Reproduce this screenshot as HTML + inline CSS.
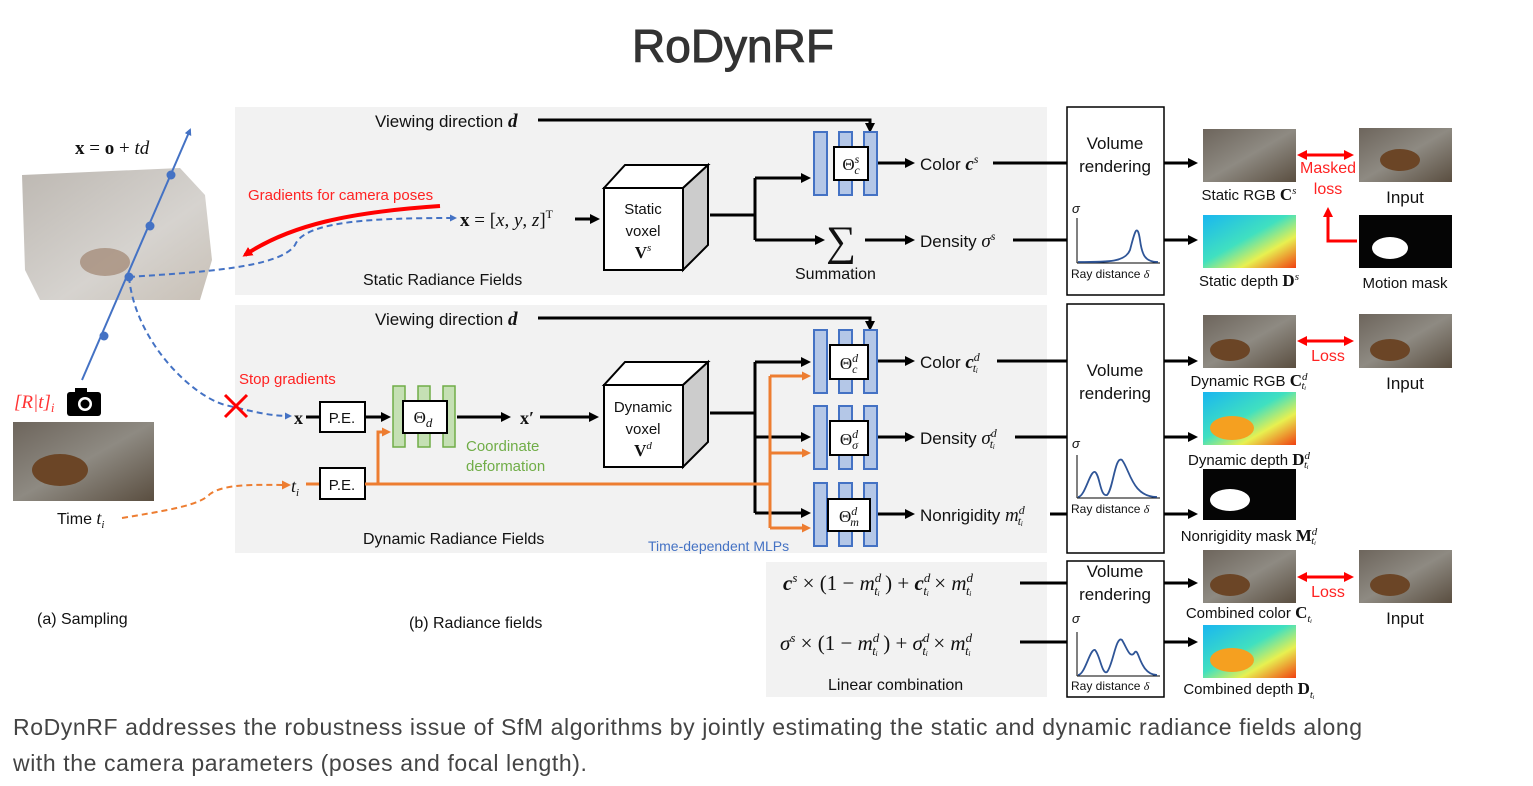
<!DOCTYPE html>
<html><head><meta charset="utf-8"><style>
html,body{margin:0;padding:0;background:#fff;width:1533px;height:786px;overflow:hidden}
svg{position:absolute;left:0;top:0}
text{font-family:"Liberation Sans",sans-serif;fill:#111}
.s{font-family:"Liberation Serif",serif}
.cap{position:absolute;left:13px;top:709px;font-family:"Liberation Sans",sans-serif;font-size:23px;letter-spacing:0.6px;color:#444;line-height:36px;width:1500px;white-space:nowrap}
</style></head><body>
<svg width="1533" height="786" viewBox="0 0 1533 786">
<defs>
<marker id="a" markerWidth="10" markerHeight="10" refX="7" refY="5" orient="auto" markerUnits="userSpaceOnUse"><path d="M0,0 L10,5 L0,10z" fill="#000"/></marker>
<marker id="ao" markerWidth="9" markerHeight="9" refX="6" refY="4.5" orient="auto" markerUnits="userSpaceOnUse"><path d="M0,0 L9,4.5 L0,9z" fill="#ed7d31"/></marker>
<marker id="ab" markerWidth="7" markerHeight="7" refX="5" refY="3.5" orient="auto" markerUnits="userSpaceOnUse"><path d="M0,0 L7,3.5 L0,7z" fill="#4472c4"/></marker>
<marker id="ar" markerWidth="10" markerHeight="10" refX="7" refY="5" orient="auto" markerUnits="userSpaceOnUse"><path d="M0,0 L10,5 L0,10z" fill="#f00"/></marker>
<marker id="ar2" markerWidth="10" markerHeight="10" refX="3" refY="5" orient="auto-start-reverse" markerUnits="userSpaceOnUse"><path d="M0,0 L10,5 L0,10z" fill="#f00"/></marker>
<linearGradient id="rock" x1="0" y1="0" x2="1" y2="1"><stop offset="0" stop-color="#6d655c"/><stop offset=".5" stop-color="#8e8a82"/><stop offset="1" stop-color="#5a4e40"/></linearGradient>
<linearGradient id="depth" x1="0" y1="0" x2="1" y2="1"><stop offset="0" stop-color="#19b6f0"/><stop offset=".45" stop-color="#40e0c0"/><stop offset=".7" stop-color="#e8f050"/><stop offset="1" stop-color="#f04010"/></linearGradient>
<linearGradient id="pc" x1="0" y1="0" x2="1" y2="1"><stop offset="0" stop-color="#bdb8b2"/><stop offset=".6" stop-color="#d6d3cf"/><stop offset="1" stop-color="#c8c0b6"/></linearGradient>
</defs>
<text x="733" y="62" font-size="46" text-anchor="middle" style="fill:#333;stroke:#333;stroke-width:1">RoDynRF</text>

<rect x="235" y="107" width="812" height="188" fill="#f2f2f2"/>
<rect x="235" y="305" width="812" height="248" fill="#f2f2f2"/>
<rect x="766" y="562" width="281" height="135" fill="#f2f2f2"/>

<path d="M22,175 L180,168 L205,195 L212,260 L200,300 L40,300 L25,270 Z" fill="url(#pc)"/>
<ellipse cx="105" cy="262" rx="25" ry="14" fill="#a08470" opacity=".7"/>
<line x1="82" y1="380" x2="190" y2="130" stroke="#4472c4" stroke-width="2" marker-end="url(#ab)"/>
<circle cx="171" cy="175" r="4.5" fill="#4472c4"/><circle cx="150" cy="226" r="4.5" fill="#4472c4"/><circle cx="129" cy="277" r="4.5" fill="#4472c4"/><circle cx="104" cy="336" r="4.5" fill="#4472c4"/>
<text x="75" y="154" font-size="19" class="s"><tspan font-weight="bold">x</tspan> = <tspan font-weight="bold">o</tspan> + <tspan font-style="italic">td</tspan></text>
<text x="14" y="408" font-size="19" class="s" style="fill:#f33;font-style:italic">[R|t]<tspan font-size="13" dy="4">i</tspan></text>
<rect x="67" y="392" width="34" height="24" rx="3" fill="#000"/><rect x="75" y="388" width="12" height="6" fill="#000"/><circle cx="85" cy="404" r="7" fill="#fff"/><circle cx="85" cy="404" r="4.5" fill="#000"/>
<rect x="13" y="422" width="141" height="79" fill="url(#rock)"/><ellipse cx="60" cy="470" rx="28" ry="16" fill="#6b4526"/>
<text x="57" y="524" font-size="16">Time <tspan class="s" font-style="italic" font-size="18">t</tspan><tspan font-size="11" dy="4" class="s" font-style="italic">i</tspan></text>
<text x="37" y="624" font-size="16">(a) Sampling</text>
<text x="409" y="628" font-size="16">(b) Radiance fields</text>

<path d="M129,277 C200,272 280,268 295,245 C305,220 380,218 455,218" fill="none" stroke="#4472c4" stroke-width="2" stroke-dasharray="6,4" marker-end="url(#ab)"/>
<path d="M129,277 C135,340 190,395 225,405 C255,412 270,416 290,416" fill="none" stroke="#4472c4" stroke-width="2" stroke-dasharray="6,4" marker-end="url(#ab)"/>
<path d="M122,518 C170,510 200,505 210,494 C225,483 260,485 288,485" fill="none" stroke="#ed7d31" stroke-width="2" stroke-dasharray="6,4" marker-end="url(#ao)"/>
<path d="M440,206 C350,212 290,225 245,255" fill="none" stroke="#f00" stroke-width="4" marker-end="url(#ar)"/>
<text x="248" y="200" font-size="15" style="fill:#f22">Gradients for camera poses</text>
<text x="239" y="384" font-size="15" style="fill:#f22">Stop gradients</text>
<path d="M225,395 L247,417 M247,395 L225,417" stroke="#f00" stroke-width="3"/>

<text x="375" y="127" font-size="17">Viewing direction <tspan class="s" font-weight="bold" font-style="italic" font-size="19">d</tspan></text>
<path d="M538,120 L870,120 L870,130" fill="none" stroke="#000" stroke-width="3" marker-end="url(#a)"/>
<text x="460" y="226" font-size="19" class="s"><tspan font-weight="bold">x</tspan> = [<tspan font-style="italic">x</tspan>, <tspan font-style="italic">y</tspan>, <tspan font-style="italic">z</tspan>]<tspan font-size="12" dy="-8">T</tspan></text>
<line x1="575" y1="219" x2="597" y2="219" stroke="#000" stroke-width="3" marker-end="url(#a)"/>
<path d="M604,188 L625,165 L708,165 L683,188 Z" fill="#fff" stroke="#000" stroke-width="2"/>
<path d="M683,188 L708,165 L708,245 L683,270 Z" fill="#ccc" stroke="#000" stroke-width="2"/>
<rect x="604" y="188" width="79" height="82" fill="#fff" stroke="#000" stroke-width="2"/>
<text x="643" y="214" font-size="15" text-anchor="middle">Static</text><text x="643" y="236" font-size="15" text-anchor="middle">voxel</text>
<text x="643" y="258" font-size="17" text-anchor="middle" class="s" font-weight="bold">V<tspan font-size="11" dy="-7" font-weight="normal" font-style="italic">s</tspan></text>
<text x="363" y="285" font-size="16">Static Radiance Fields</text>
<path d="M710,215 L755,215 M755,178 L755,240" stroke="#000" stroke-width="3" fill="none"/>
<line x1="755" y1="178" x2="808" y2="178" stroke="#000" stroke-width="3" marker-end="url(#a)"/>
<line x1="755" y1="240" x2="822" y2="240" stroke="#000" stroke-width="3" marker-end="url(#a)"/>
<g fill="#b4c7e7" stroke="#4472c4" stroke-width="2"><rect x="814" y="132" width="13" height="63"/><rect x="839" y="132" width="13" height="63"/><rect x="864" y="132" width="13" height="63"/></g>
<rect x="834" y="147" width="34" height="33" fill="#fff" stroke="#000" stroke-width="2"/>
<text x="851" y="170" font-size="17" text-anchor="middle" class="s">Θ<tspan font-size="12" dy="-7" font-style="italic">s</tspan><tspan font-size="12" dx="-5" dy="11" font-style="italic">c</tspan></text>
<line x1="878" y1="163" x2="912" y2="163" stroke="#000" stroke-width="3" marker-end="url(#a)"/>
<text x="920" y="170" font-size="17">Color <tspan class="s" font-weight="bold" font-style="italic" font-size="19">c</tspan><tspan class="s" font-size="12" dy="-7" font-style="italic">s</tspan></text>
<line x1="993" y1="163" x2="1067" y2="163" stroke="#000" stroke-width="3"/>
<text x="826" y="255" font-size="42" class="s">∑</text>
<text x="795" y="279" font-size="16">Summation</text>
<line x1="865" y1="240" x2="912" y2="240" stroke="#000" stroke-width="3" marker-end="url(#a)"/>
<text x="920" y="247" font-size="17">Density <tspan class="s" font-style="italic" font-size="19">σ</tspan><tspan class="s" font-size="12" dy="-7" font-style="italic">s</tspan></text>
<line x1="1013" y1="240" x2="1067" y2="240" stroke="#000" stroke-width="3"/>

<text x="375" y="325" font-size="17">Viewing direction <tspan class="s" font-weight="bold" font-style="italic" font-size="19">d</tspan></text>
<path d="M538,318 L870,318 L870,328" fill="none" stroke="#000" stroke-width="3" marker-end="url(#a)"/>
<text x="294" y="424" font-size="18" class="s" font-weight="bold">x</text>
<line x1="306" y1="417" x2="320" y2="417" stroke="#000" stroke-width="3"/>
<rect x="320" y="402" width="45" height="30" fill="#fff" stroke="#000" stroke-width="2"/><text x="342" y="423" font-size="15" text-anchor="middle">P.E.</text>
<line x1="365" y1="417" x2="388" y2="417" stroke="#000" stroke-width="3" marker-end="url(#a)"/>
<g fill="#c5e0b4" stroke="#70ad47" stroke-width="1.5"><rect x="393" y="386" width="12" height="61"/><rect x="418" y="386" width="12" height="61"/><rect x="443" y="386" width="12" height="61"/></g>
<rect x="403" y="401" width="44" height="32" fill="#fff" stroke="#000" stroke-width="2"/>
<text x="423" y="423" font-size="17" text-anchor="middle" class="s">Θ<tspan font-size="13" dy="4" font-style="italic">d</tspan></text>
<line x1="457" y1="417" x2="508" y2="417" stroke="#000" stroke-width="3" marker-end="url(#a)"/>
<text x="520" y="424" font-size="18" class="s" font-weight="bold">x′</text>
<line x1="540" y1="417" x2="596" y2="417" stroke="#000" stroke-width="3" marker-end="url(#a)"/>
<text x="466" y="451" font-size="15" style="fill:#70ad47">Coordinate</text><text x="466" y="471" font-size="15" style="fill:#70ad47">deformation</text>
<text x="291" y="492" font-size="18" class="s" font-style="italic">t<tspan font-size="11" dy="4">i</tspan></text>
<line x1="306" y1="484" x2="320" y2="484" stroke="#ed7d31" stroke-width="3"/>
<rect x="320" y="468" width="45" height="31" fill="#fff" stroke="#000" stroke-width="2"/><text x="342" y="490" font-size="15" text-anchor="middle">P.E.</text>
<path d="M604,385 L625,362 L708,362 L683,385 Z" fill="#fff" stroke="#000" stroke-width="2"/>
<path d="M683,385 L708,362 L708,442 L683,467 Z" fill="#ccc" stroke="#000" stroke-width="2"/>
<rect x="604" y="385" width="79" height="82" fill="#fff" stroke="#000" stroke-width="2"/>
<text x="643" y="412" font-size="15" text-anchor="middle">Dynamic</text><text x="643" y="434" font-size="15" text-anchor="middle">voxel</text>
<text x="643" y="456" font-size="17" text-anchor="middle" class="s" font-weight="bold">V<tspan font-size="11" dy="-7" font-weight="normal" font-style="italic">d</tspan></text>
<text x="363" y="544" font-size="16">Dynamic Radiance Fields</text>
<text x="648" y="551" font-size="14" style="fill:#4472c4">Time-dependent MLPs</text>
<path d="M710,413 L755,413 M755,362 L755,513" stroke="#000" stroke-width="3" fill="none"/>
<line x1="755" y1="362" x2="808" y2="362" stroke="#000" stroke-width="3" marker-end="url(#a)"/>
<line x1="755" y1="437" x2="808" y2="437" stroke="#000" stroke-width="3" marker-end="url(#a)"/>
<line x1="755" y1="513" x2="808" y2="513" stroke="#000" stroke-width="3" marker-end="url(#a)"/>
<path d="M365,484 L770,484 M378,484 L378,432 L388,432 M770,376 L770,528" stroke="#ed7d31" stroke-width="3" fill="none"/>
<line x1="377" y1="432" x2="388" y2="432" stroke="#ed7d31" stroke-width="3" marker-end="url(#ao)"/>
<line x1="770" y1="376" x2="808" y2="376" stroke="#ed7d31" stroke-width="3" marker-end="url(#ao)"/>
<line x1="770" y1="453" x2="808" y2="453" stroke="#ed7d31" stroke-width="3" marker-end="url(#ao)"/>
<line x1="770" y1="528" x2="808" y2="528" stroke="#ed7d31" stroke-width="3" marker-end="url(#ao)"/>
<g fill="#b4c7e7" stroke="#4472c4" stroke-width="2">
<rect x="814" y="330" width="13" height="63"/><rect x="839" y="330" width="13" height="63"/><rect x="864" y="330" width="13" height="63"/>
<rect x="814" y="406" width="13" height="63"/><rect x="839" y="406" width="13" height="63"/><rect x="864" y="406" width="13" height="63"/>
<rect x="814" y="483" width="13" height="63"/><rect x="839" y="483" width="13" height="63"/><rect x="864" y="483" width="13" height="63"/></g>
<g fill="#fff" stroke="#000" stroke-width="2"><rect x="830" y="345" width="38" height="34"/><rect x="830" y="421" width="38" height="34"/><rect x="828" y="499" width="42" height="32"/></g>
<text x="849" y="369" font-size="17" text-anchor="middle" class="s">Θ<tspan font-size="12" dy="-7" font-style="italic">d</tspan><tspan font-size="12" dx="-6" dy="11" font-style="italic">c</tspan></text>
<text x="849" y="445" font-size="17" text-anchor="middle" class="s">Θ<tspan font-size="12" dy="-7" font-style="italic">d</tspan><tspan font-size="12" dx="-6" dy="11" font-style="italic">σ</tspan></text>
<text x="849" y="522" font-size="17" text-anchor="middle" class="s">Θ<tspan font-size="12" dy="-7" font-style="italic">d</tspan><tspan font-size="12" dx="-7" dy="11" font-style="italic">m</tspan></text>
<line x1="878" y1="361" x2="912" y2="361" stroke="#000" stroke-width="3" marker-end="url(#a)"/>
<line x1="878" y1="437" x2="912" y2="437" stroke="#000" stroke-width="3" marker-end="url(#a)"/>
<line x1="878" y1="514" x2="912" y2="514" stroke="#000" stroke-width="3" marker-end="url(#a)"/>
<text x="920" y="368" font-size="17">Color <tspan class="s" font-weight="bold" font-style="italic" font-size="19">c</tspan><tspan class="s" font-size="12" dy="-7" font-style="italic">d</tspan><tspan class="s" font-size="12" dx="-7" dy="11" font-style="italic">tᵢ</tspan></text>
<text x="920" y="444" font-size="17">Density <tspan class="s" font-style="italic" font-size="19">σ</tspan><tspan class="s" font-size="12" dy="-7" font-style="italic">d</tspan><tspan class="s" font-size="12" dx="-7" dy="11" font-style="italic">tᵢ</tspan></text>
<text x="920" y="521" font-size="17">Nonrigidity <tspan class="s" font-style="italic" font-size="19">m</tspan><tspan class="s" font-size="12" dy="-7" font-style="italic">d</tspan><tspan class="s" font-size="12" dx="-7" dy="11" font-style="italic">tᵢ</tspan></text>
<line x1="997" y1="361" x2="1067" y2="361" stroke="#000" stroke-width="3"/>
<line x1="1015" y1="437" x2="1067" y2="437" stroke="#000" stroke-width="3"/>
<line x1="1050" y1="514" x2="1067" y2="514" stroke="#000" stroke-width="3"/>

<text x="783" y="590" font-size="21" class="s"><tspan font-weight="bold" font-style="italic">c</tspan><tspan font-size="13" dy="-8" font-style="italic">s</tspan><tspan dy="8"> × (1 − </tspan><tspan font-style="italic">m</tspan><tspan font-size="13" dy="-8" font-style="italic">d</tspan><tspan font-size="13" dx="-7" dy="13" font-style="italic">tᵢ</tspan><tspan dy="-5"> ) + </tspan><tspan font-weight="bold" font-style="italic">c</tspan><tspan font-size="13" dy="-8" font-style="italic">d</tspan><tspan font-size="13" dx="-7" dy="13" font-style="italic">tᵢ</tspan><tspan dy="-5"> × </tspan><tspan font-style="italic">m</tspan><tspan font-size="13" dy="-8" font-style="italic">d</tspan><tspan font-size="13" dx="-7" dy="13" font-style="italic">tᵢ</tspan></text>
<text x="780" y="650" font-size="21" class="s"><tspan font-style="italic">σ</tspan><tspan font-size="13" dy="-8" font-style="italic">s</tspan><tspan dy="8"> × (1 − </tspan><tspan font-style="italic">m</tspan><tspan font-size="13" dy="-8" font-style="italic">d</tspan><tspan font-size="13" dx="-7" dy="13" font-style="italic">tᵢ</tspan><tspan dy="-5"> ) + </tspan><tspan font-style="italic">σ</tspan><tspan font-size="13" dy="-8" font-style="italic">d</tspan><tspan font-size="13" dx="-7" dy="13" font-style="italic">tᵢ</tspan><tspan dy="-5"> × </tspan><tspan font-style="italic">m</tspan><tspan font-size="13" dy="-8" font-style="italic">d</tspan><tspan font-size="13" dx="-7" dy="13" font-style="italic">tᵢ</tspan></text>
<line x1="1020" y1="583" x2="1067" y2="583" stroke="#000" stroke-width="3"/>
<line x1="1020" y1="642" x2="1067" y2="642" stroke="#000" stroke-width="3"/>
<text x="828" y="690" font-size="16">Linear combination</text>

<g fill="#fff" stroke="#000" stroke-width="1.5"><rect x="1067" y="107" width="97" height="188"/><rect x="1067" y="304" width="97" height="249"/><rect x="1067" y="561" width="97" height="136"/></g>
<g font-size="17" text-anchor="middle"><text x="1115" y="149">Volume</text><text x="1115" y="172">rendering</text>
<text x="1115" y="376">Volume</text><text x="1115" y="399">rendering</text>
<text x="1115" y="577">Volume</text><text x="1115" y="600">rendering</text></g>
<g font-size="12"><text x="1071" y="278">Ray distance <tspan class="s" font-style="italic">δ</tspan></text><text x="1071" y="513">Ray distance <tspan class="s" font-style="italic">δ</tspan></text><text x="1071" y="690">Ray distance <tspan class="s" font-style="italic">δ</tspan></text></g>
<g font-size="13" class="s" font-style="italic"><text x="1072" y="213">σ</text><text x="1072" y="448">σ</text><text x="1072" y="623">σ</text></g>
<g stroke="#000" stroke-width="1" fill="none">
<path d="M1077,263 L1077,218 M1077,263 L1160,263"/><path d="M1077,498 L1077,455 M1077,498 L1160,498"/><path d="M1077,676 L1077,632 M1077,676 L1160,676"/></g>
<g stroke="#2f5597" stroke-width="1.8" fill="none">
<path d="M1078,262 C1110,262 1125,262 1130,250 C1134,235 1137,220 1140,240 C1142,255 1145,262 1158,262"/>
<path d="M1078,497 C1085,497 1090,470 1095,472 C1100,475 1100,497 1107,495 C1113,490 1115,455 1122,460 C1130,470 1132,497 1157,497"/>
<path d="M1078,675 C1085,675 1090,648 1095,650 C1100,655 1102,675 1107,672 C1113,665 1116,635 1122,640 C1127,648 1130,660 1135,652 C1139,648 1140,675 1157,675"/></g>

<g stroke="#000" stroke-width="3"><line x1="1164" y1="163" x2="1195" y2="163" marker-end="url(#a)"/><line x1="1164" y1="240" x2="1195" y2="240" marker-end="url(#a)"/>
<line x1="1164" y1="361" x2="1195" y2="361" marker-end="url(#a)"/><line x1="1164" y1="437" x2="1195" y2="437" marker-end="url(#a)"/><line x1="1164" y1="514" x2="1195" y2="514" marker-end="url(#a)"/>
<line x1="1164" y1="583" x2="1195" y2="583" marker-end="url(#a)"/><line x1="1164" y1="642" x2="1195" y2="642" marker-end="url(#a)"/></g>

<g>
<rect x="1203" y="129" width="93" height="53" fill="url(#rock)"/>
<rect x="1359" y="128" width="93" height="54" fill="url(#rock)"/><ellipse cx="1400" cy="160" rx="20" ry="11" fill="#6b4526"/>
<rect x="1203" y="215" width="93" height="53" fill="url(#depth)"/>
<rect x="1359" y="215" width="93" height="53" fill="#050505"/><ellipse cx="1390" cy="248" rx="18" ry="11" fill="#fff"/>
<rect x="1203" y="315" width="93" height="53" fill="url(#rock)"/><ellipse cx="1230" cy="350" rx="20" ry="11" fill="#6b4526"/>
<rect x="1359" y="314" width="93" height="54" fill="url(#rock)"/><ellipse cx="1390" cy="350" rx="20" ry="11" fill="#6b4526"/>
<rect x="1203" y="392" width="93" height="53" fill="url(#depth)"/><ellipse cx="1232" cy="428" rx="22" ry="12" fill="#f5a020"/>
<rect x="1203" y="469" width="93" height="51" fill="#050505"/><ellipse cx="1230" cy="500" rx="20" ry="11" fill="#fff"/>
<rect x="1203" y="550" width="93" height="53" fill="url(#rock)"/><ellipse cx="1230" cy="585" rx="20" ry="11" fill="#6b4526"/>
<rect x="1359" y="550" width="93" height="53" fill="url(#rock)"/><ellipse cx="1390" cy="585" rx="20" ry="11" fill="#6b4526"/>
<rect x="1203" y="625" width="93" height="53" fill="url(#depth)"/><ellipse cx="1232" cy="660" rx="22" ry="12" fill="#f5a020"/>
</g>
<g stroke="#f00" stroke-width="3" fill="none">
<line x1="1304" y1="155" x2="1351" y2="155" marker-start="url(#ar2)" marker-end="url(#ar)"/>
<line x1="1304" y1="341" x2="1351" y2="341" marker-start="url(#ar2)" marker-end="url(#ar)"/>
<line x1="1304" y1="577" x2="1351" y2="577" marker-start="url(#ar2)" marker-end="url(#ar)"/>
<path d="M1357,241 L1328,241 L1328,210" marker-end="url(#ar)"/></g>
<g font-size="16" text-anchor="middle"><text x="1328" y="173" style="fill:#f22">Masked</text><text x="1328" y="194" style="fill:#f22">loss</text>
<text x="1328" y="361" style="fill:#f22">Loss</text><text x="1328" y="597" style="fill:#f22">Loss</text></g>
<g font-size="15" text-anchor="middle">
<text x="1249" y="200">Static RGB <tspan class="s" font-weight="bold" font-size="17">C</tspan><tspan class="s" font-size="11" dy="-6" font-style="italic">s</tspan></text>
<text x="1405" y="203" font-size="17">Input</text>
<text x="1249" y="286">Static depth <tspan class="s" font-weight="bold" font-size="17">D</tspan><tspan class="s" font-size="11" dy="-6" font-style="italic">s</tspan></text>
<text x="1405" y="288">Motion mask</text>
<text x="1249" y="386">Dynamic RGB <tspan class="s" font-weight="bold" font-size="17">C</tspan><tspan class="s" font-size="11" dy="-6" font-style="italic">d</tspan><tspan class="s" font-size="11" dx="-6" dy="9" font-style="italic">tᵢ</tspan></text>
<text x="1405" y="389" font-size="17">Input</text>
<text x="1249" y="465">Dynamic depth <tspan class="s" font-weight="bold" font-size="17">D</tspan><tspan class="s" font-size="11" dy="-6" font-style="italic">d</tspan><tspan class="s" font-size="11" dx="-6" dy="9" font-style="italic">tᵢ</tspan></text>
<text x="1249" y="541">Nonrigidity mask <tspan class="s" font-weight="bold" font-size="17">M</tspan><tspan class="s" font-size="11" dy="-6" font-style="italic">d</tspan><tspan class="s" font-size="11" dx="-6" dy="9" font-style="italic">tᵢ</tspan></text>
<text x="1249" y="618">Combined color <tspan class="s" font-weight="bold" font-size="17">C</tspan><tspan class="s" font-size="11" dy="4" font-style="italic">tᵢ</tspan></text>
<text x="1405" y="624" font-size="17">Input</text>
<text x="1249" y="694">Combined depth <tspan class="s" font-weight="bold" font-size="17">D</tspan><tspan class="s" font-size="11" dy="4" font-style="italic">tᵢ</tspan></text>
</g>
</svg>
<div class="cap">RoDynRF addresses the robustness issue of SfM algorithms by jointly estimating the static and dynamic radiance fields along<br>with the camera parameters (poses and focal length).</div>
</body></html>
